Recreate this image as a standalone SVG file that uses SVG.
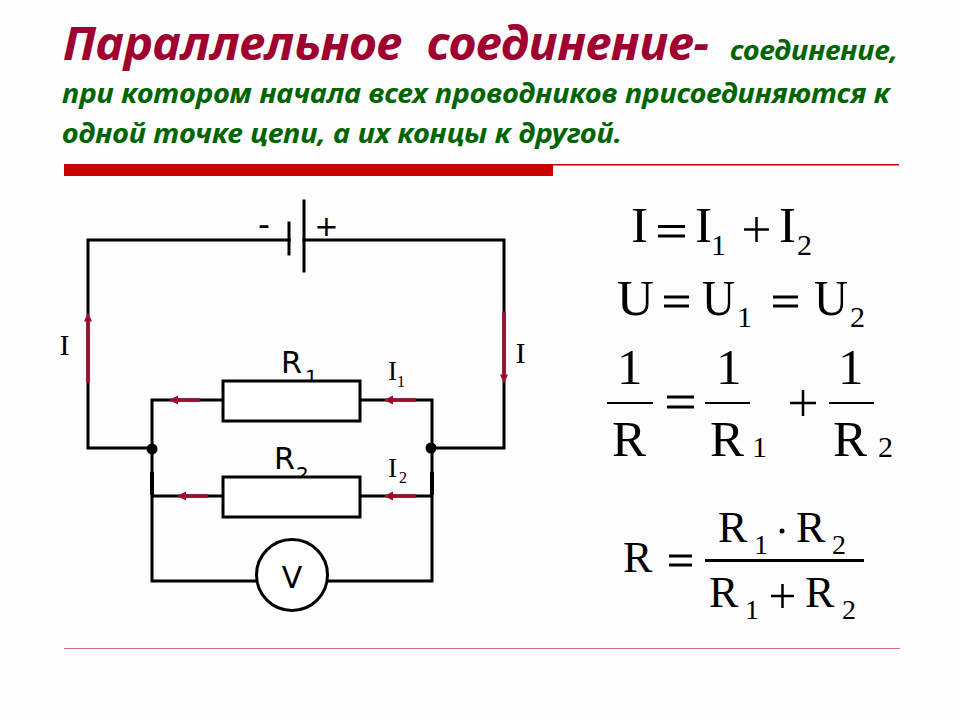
<svg xmlns="http://www.w3.org/2000/svg" width="960" height="720" viewBox="0 0 960 720">
<style>
.w{fill:none;stroke:#000;stroke-width:3;stroke-linecap:square}
.r{fill:#fff;stroke:#000;stroke-width:3}
.c{fill:none;stroke:#9a0b2c;stroke-width:3.500}
.h{fill:#9a0b2c}
.t{font-family:"Noto Sans","Open Sans",sans-serif;font-weight:700;font-style:italic}
.g{fill:#006400}
.s{font-family:"DejaVu Sans",sans-serif;fill:#000}
.m{font-family:"Liberation Serif",serif;fill:#000}
.f{stroke:#000;stroke-width:2;fill:none}
.e{stroke:#000;stroke-width:3;fill:none}
</style>
<rect width="960" height="720" fill="#fdfdfd"/>
<g id="title">
<text class="t" x="63" y="60" font-size="46" fill="#a00030" textLength="646" lengthAdjust="spacingAndGlyphs" xml:space="preserve">Параллельное  соединение-</text>
<text class="t g" x="730" y="60" font-size="27" textLength="168" lengthAdjust="spacingAndGlyphs">соединение,</text>
<text class="t g" x="62" y="103" font-size="27" textLength="828" lengthAdjust="spacingAndGlyphs">при котором начала всех проводников присоединяются к</text>
<text class="t g" x="62" y="143" font-size="27" textLength="560" lengthAdjust="spacingAndGlyphs">одной точке цепи, а их концы к другой.</text>
</g>
<g id="rules">
<rect x="64" y="164" width="489" height="12" fill="#c80000"/>
<rect x="553" y="164" width="346" height="1.500" fill="#c80000"/>
<rect x="64" y="648" width="836" height="1" fill="#c87088"/>
</g>
<g id="connectors">
<path class="w" d="M289 240H88V448H152M304 240H504V448H431"/>
<path class="w" d="M152 581V400H223M360 400H432V581M152 496H223M360 496H432M152 581H256M328 581H432"/>
<path class="w" d="M289 223V254M304 201V271"/>
<path d="M152 472V495M432 472V495" stroke="#000" stroke-width="4" fill="none"/>
<circle cx="152" cy="449" r="5.500" fill="#000"/>
<circle cx="431" cy="448" r="5.500" fill="#000"/>
</g>
<g id="current-arrows">
<path class="c" d="M88 383V318M504 312V378M200 400H174M416 400H389M208 496H182M416 496H389"/>
<path class="h" d="M88 312.500l-4 9h8zM504 383.500l-4-9h8zM169 400l9-4.500v9zM384 400l9-4.500v9zM177 496l9-4.500v9zM384 496l9-4.500v9z"/>
</g>
<g id="battery">
<text class="s" x="264" y="236" font-size="33" text-anchor="middle">-</text>
<text class="s" x="326.500" y="236" font-size="29" text-anchor="middle">+</text>
</g>
<g id="R1">
<text class="s" x="281" y="373" font-size="31" textLength="21" lengthAdjust="spacingAndGlyphs">R</text>
<text class="s" x="305" y="384" font-size="20">1</text>
<rect class="r" x="223" y="381" width="137" height="40"/>
</g>
<g id="R2">
<text class="s" x="274" y="469" font-size="31" textLength="21" lengthAdjust="spacingAndGlyphs">R</text>
<text class="s" x="296" y="481" font-size="20">2</text>
<rect class="r" x="223" y="477" width="137" height="40"/>
</g>
<g id="voltmeter">
<circle class="r" cx="292" cy="575" r="35.500"/>
<text class="s" x="292" y="588" font-size="30" text-anchor="middle">V</text>
</g>
<g id="labels">
<text class="m" x="59.500" y="355" font-size="30">I</text>
<text class="m" x="515.500" y="363" font-size="30">I</text>
<text class="m" x="388" y="380" font-size="27">I</text><text class="m" x="397" y="387" font-size="16">1</text>
<text class="m" x="388" y="477" font-size="27">I</text><text class="m" x="399" y="483" font-size="16">2</text>
</g>
<g id="formula-1">
<text class="m" x="631" y="242" font-size="51">I</text>
<path d="M658 226.500H685M658 236H685" class="e"/>
<text class="m" x="695" y="242" font-size="51">I</text>
<text class="m" x="711" y="255" font-size="30">1</text>
<path d="M744 229.500H769M756.500 217V242" class="f" style="stroke-width:2.500"/>
<text class="m" x="779" y="242" font-size="51">I</text>
<text class="m" x="797" y="255" font-size="30">2</text>
</g>
<g id="formula-2">
<text class="m" x="617" y="315" font-size="51">U</text>
<path d="M664 297H689M664 306H689" class="e"/>
<text class="m" x="702" y="315" font-size="51" textLength="33" lengthAdjust="spacingAndGlyphs">U</text>
<text class="m" x="737" y="327" font-size="30">1</text>
<path d="M773 297H798M773 306H798" class="e"/>
<text class="m" x="814" y="315" font-size="51" textLength="34" lengthAdjust="spacingAndGlyphs">U</text>
<text class="m" x="850" y="327" font-size="30">2</text>
</g>
<g id="formula-3">
<text class="m" x="617" y="384" font-size="51">1</text>
<path class="f" d="M607 403H653"/>
<text class="m" x="612" y="456" font-size="51">R</text>
<path d="M667 397H694M667 407H694" class="e"/>
<text class="m" x="716" y="384" font-size="51">1</text>
<path class="f" d="M705 403H750"/>
<text class="m" x="710" y="456" font-size="51">R</text>
<text class="m" x="752" y="457" font-size="30">1</text>
<path d="M790 403H816M803 390V416" class="f" style="stroke-width:2.500"/>
<text class="m" x="838" y="384" font-size="51">1</text>
<path class="f" d="M829 403H874"/>
<text class="m" x="833" y="456" font-size="51">R</text>
<text class="m" x="878" y="457" font-size="30">2</text>
</g>
<g id="formula-4">
<text class="m" x="623" y="572" font-size="44">R</text>
<path d="M669 556H692M669 565H692" class="e"/>
<text class="m" x="718" y="542" font-size="44">R</text>
<text class="m" x="754" y="554" font-size="28">1</text>
<circle cx="782" cy="531" r="2.500" fill="#000"/>
<text class="m" x="796" y="542" font-size="44">R</text>
<text class="m" x="832" y="554" font-size="28">2</text>
<path class="e" d="M705 560.500H864"/>
<text class="m" x="709" y="607" font-size="44">R</text>
<text class="m" x="745" y="619" font-size="28">1</text>
<path d="M771 596H794M782.500 584V608" class="f" style="stroke-width:2.500"/>
<text class="m" x="805" y="607" font-size="44">R</text>
<text class="m" x="842" y="619" font-size="28">2</text>
</g>
</svg>
